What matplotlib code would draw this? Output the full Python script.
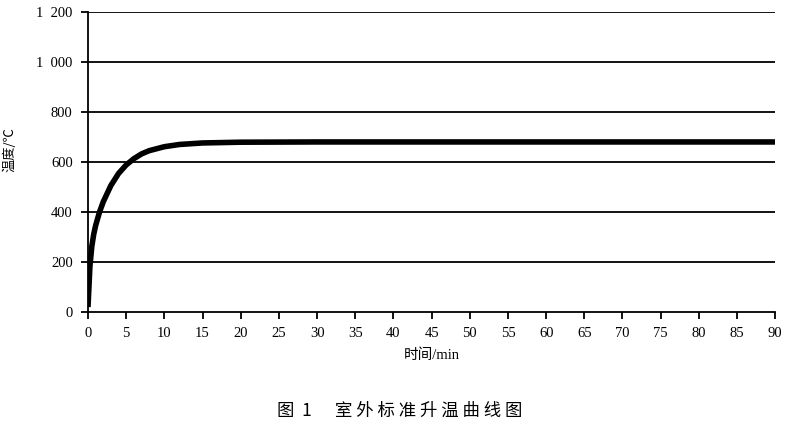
import matplotlib
matplotlib.use("Agg")
import matplotlib.pyplot as plt
from matplotlib.ticker import FuncFormatter

plt.rcParams['font.family'] = ['Liberation Serif', 'Noto Sans CJK SC', 'DejaVu Sans']

# 读图得到的曲线数据
shijian = [0, 0.25, 0.5, 0.75, 1, 1.5, 2, 3, 4, 5, 6, 7, 8, 10, 12, 15, 20, 30, 45, 60, 90]
wendu = [20, 182, 263, 311, 346, 399, 441, 506, 554, 588, 613, 632, 645, 661, 670, 676, 679, 680, 680, 680, 680]

x_ticks = list(range(0, 91, 5))
y_ticks = [0, 200, 400, 600, 800, 1000, 1200]

fig = plt.figure(figsize=(8, 4.24), dpi=100)
ax = fig.add_axes([0.11, 0.264, 0.859, 0.708])

for y in y_ticks[1:]:
    ax.axhline(y, color='black', lw=1.3, zorder=1)

ax.plot(shijian, wendu, color='black', lw=4.0, solid_capstyle='butt', zorder=3)

ax.set_xlim(0, 90)
ax.set_ylim(0, 1200)
ax.set_xticks(x_ticks)
ax.set_yticks(y_ticks)
ax.yaxis.set_major_formatter(FuncFormatter(lambda v, p: f"{int(v):,}".replace(",", "  ")))

for s in ['top', 'right']:
    ax.spines[s].set_visible(False)
for s in ['left', 'bottom']:
    ax.spines[s].set_linewidth(1.3)
ax.tick_params(axis='both', direction='out', length=5, width=1.3, labelsize=10.5, pad=6)

ax.set_xlabel("时间/min", fontsize=10.5, family=['Liberation Serif', 'Noto Sans CJK SC'])
ax.xaxis.set_label_coords(0.5, -0.12)
ax.set_ylabel("温度/℃", fontsize=9.5, family=['Noto Sans CJK SC', 'DejaVu Sans'])
ax.yaxis.set_label_coords(-0.1135, 0.54)
ax.yaxis.label.set_va('center')

fig.text(0.5, 0.032, "图  1      室 外 标 准 升 温 曲 线 图", ha='center', va='center', fontsize=12.5,
         family=['Noto Sans CJK SC', 'DejaVu Sans'])

plt.savefig("out.png", dpi=100)
